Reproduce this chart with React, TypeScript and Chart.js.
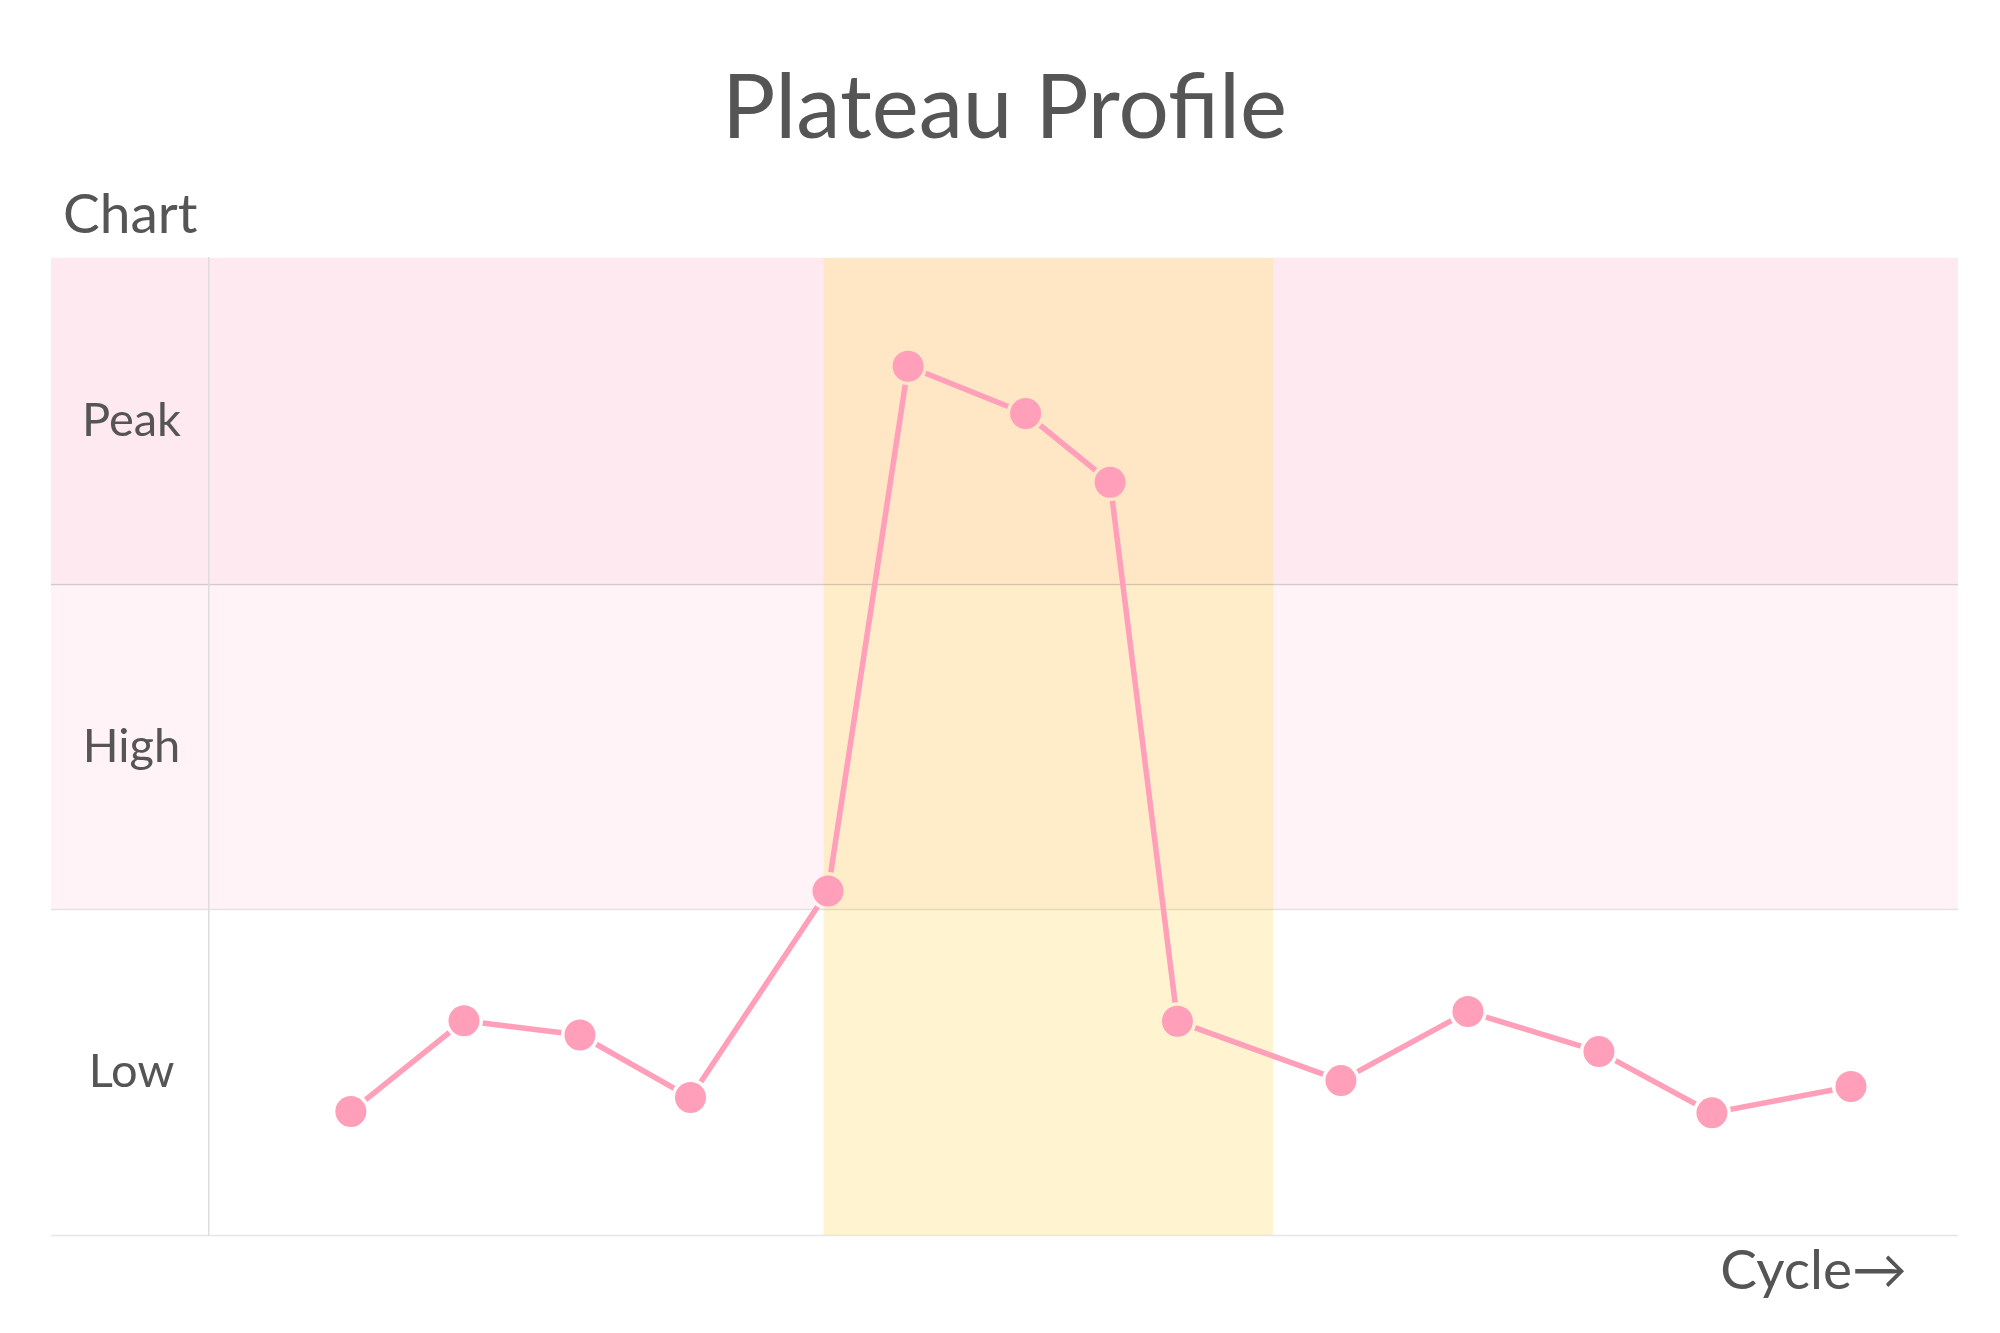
import React, { useEffect, useRef } from "react";
import { Chart, registerables } from "chart.js";

Chart.register(...registerables);

// ---- data ----
const cycleX: number[] = [8.11, 14.58, 21.21, 27.53, 35.39, 39.97, 46.69, 51.52, 55.37, 64.72, 71.98, 79.47, 85.93, 93.88];
const levelY: number[] = [0.379, 0.658, 0.614, 0.422, 1.056, 2.667, 2.522, 2.311, 0.656, 0.474, 0.686, 0.563, 0.375, 0.456];
const levelLabels: string[] = ["Low", "High", "Peak"];
const levelTickValues: number[] = [0.5, 1.5, 2.5];
const bandBounds: number[] = [0, 1, 2, 3];
const plateauRange: number[] = [35.14, 60.84];
const xRange: number[] = [0, 100];

const TEXT = "#555555";
const FONT = "Lato, 'Noto Sans', sans-serif";
const PINK = "#ff9fba";

const points = cycleX.map((x, i) => ({ x, y: levelY[i] }));

const bandsPlugin = {
  id: "bands",
  beforeDraw(chart: any) {
    const { ctx, chartArea } = chart;
    const ys = chart.scales.y;
    const xs = chart.scales.x;
    const left = ys.left;
    const right = chartArea.right;
    ctx.save();
    // horizontal level bands
    const bandColors = ["rgba(0,0,0,0)", "#fff3f7", "#ffe9f0"];
    for (let i = 0; i < 3; i++) {
      const top = ys.getPixelForValue(bandBounds[i + 1]);
      const bot = ys.getPixelForValue(bandBounds[i]);
      ctx.fillStyle = bandColors[i];
      ctx.fillRect(left, top, right - left, bot - top);
    }
    // plateau highlight
    const x0 = xs.getPixelForValue(plateauRange[0]);
    const x1 = xs.getPixelForValue(plateauRange[1]);
    ctx.fillStyle = "rgba(255, 228, 140, 0.42)";
    ctx.fillRect(x0, chartArea.top, x1 - x0, chartArea.bottom - chartArea.top);
    // boundary lines
    const lineColors: Record<number, string> = { 0: "rgba(0,0,0,0.1)", 1: "rgba(0,0,0,0.1)", 2: "rgba(0,0,0,0.17)" };
    ctx.lineWidth = 1.5;
    [0, 1, 2].forEach((v) => {
      const y = Math.round(ys.getPixelForValue(bandBounds[v])) + 0.5;
      ctx.strokeStyle = lineColors[v];
      ctx.beginPath();
      ctx.moveTo(left, y);
      ctx.lineTo(right, y);
      ctx.stroke();
    });
    ctx.restore();
  },
  afterDraw(chart: any) {
    const { ctx } = chart;
    ctx.save();
    ctx.fillStyle = TEXT;
    ctx.textBaseline = "alphabetic";
    ctx.font = `55px ${FONT}`;
    ctx.textAlign = "left";
    ctx.fillText("Chart", 63, 233);
    ctx.textAlign = "right";
    ctx.fillText("Cycle→", 1907, 1289);
    ctx.restore();
  },
};

const gapPlugin = {
  id: "pointGaps",
  beforeDatasetDraw(chart: any, args: any) {
    if (args.index !== 0) return;
    const { ctx } = chart;
    const meta = chart.getDatasetMeta(1);
    ctx.save();
    ctx.beginPath();
    ctx.rect(0, 0, chart.width, chart.height);
    const r = 19;
    meta.data.forEach((el: any) => {
      ctx.moveTo(el.x + r, el.y);
      ctx.arc(el.x, el.y, r, 0, Math.PI * 2);
    });
    ctx.clip("evenodd");
  },
  afterDatasetDraw(chart: any, args: any) {
    if (args.index !== 0) return;
    chart.ctx.restore();
  },
};

export default function App() {
  const ref = useRef<HTMLCanvasElement | null>(null);

  useEffect(() => {
    document.body.style.margin = "0";
    if (!ref.current) return;
    const chart = new Chart(ref.current, {
      type: "line",
      data: {
        datasets: [
          {
            label: "line",
            data: points,
            borderColor: PINK,
            borderWidth: 5.5,
            borderCapStyle: "round",
            borderJoinStyle: "round",
            pointRadius: 0,
            pointHoverRadius: 0,
            tension: 0,
            fill: false,
          },
          {
            label: "points",
            data: points,
            showLine: false,
            pointRadius: 15.5,
            pointHoverRadius: 15.5,
            pointBackgroundColor: PINK,
            pointBorderWidth: 0,
            borderColor: PINK,
          },
        ],
      },
      options: {
        animation: false,
        responsive: true,
        maintainAspectRatio: false,
        layout: { padding: { left: 51, right: 42, top: 0, bottom: 98 } },
        plugins: {
          legend: { display: false },
          tooltip: { enabled: false },
          title: {
            display: true,
            text: "Plateau Profile",
            color: TEXT,
            font: { family: FONT, size: 89, weight: "normal", lineHeight: 1.2 },
            padding: { top: 56, bottom: 95 },
          },
        },
        scales: {
          x: {
            type: "linear",
            display: false,
            min: xRange[0],
            max: xRange[1],
          },
          y: {
            type: "linear",
            min: bandBounds[0],
            max: bandBounds[3],
            afterBuildTicks: (scale: any) => {
              scale.ticks = levelTickValues.map((v) => ({ value: v }));
            },
            afterFit: (scale: any) => {
              scale.width = 158;
            },
            grid: { display: false, drawTicks: false },
            border: { display: true, color: "#dddddd", width: 1.5 },
            ticks: {
              crossAlign: "center",
              padding: 28,
              color: TEXT,
              font: { family: FONT, size: 47 },
              callback: (v: any) => {
                const idx = levelTickValues.indexOf(Number(v));
                return idx >= 0 ? levelLabels[idx] : "";
              },
            },
          },
        },
      },
      plugins: [bandsPlugin, gapPlugin],
    });
    return () => chart.destroy();
  }, []);

  return (
    <div style={{ width: 2000, height: 1333, position: "relative" }}>
      <canvas ref={ref} />
    </div>
  );
}
